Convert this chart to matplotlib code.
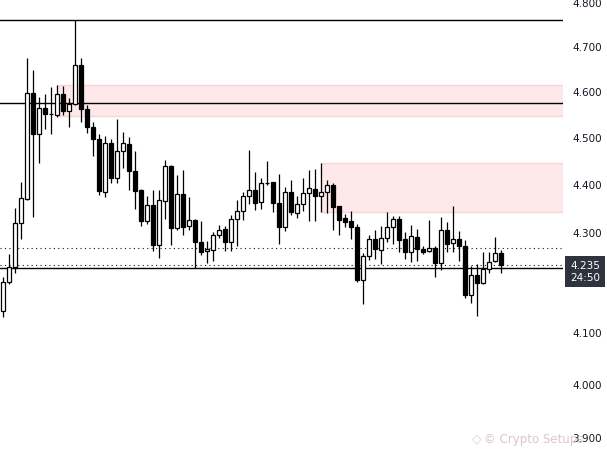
import numpy as np
import matplotlib
matplotlib.use("Agg")
import matplotlib.pyplot as plt
from matplotlib.patches import Rectangle
from matplotlib.ticker import NullLocator, NullFormatter
from matplotlib.transforms import blended_transform_factory

# candle data (oldest first)
OPEN = [4.144, 4.201, 4.231, 4.322, 4.371, 4.598, 4.510, 4.565, 4.552, 4.551,
        4.595, 4.558, 4.573, 4.660, 4.563, 4.525, 4.498, 4.386, 4.490, 4.415,
        4.472, 4.488, 4.430, 4.389, 4.325, 4.358, 4.276, 4.368, 4.440, 4.312,
        4.382, 4.315, 4.327, 4.283, 4.264, 4.267, 4.297, 4.309, 4.283, 4.330,
        4.347, 4.378, 4.391, 4.364, 4.405, 4.406, 4.363, 4.313, 4.385, 4.342,
        4.361, 4.383, 4.393, 4.378, 4.386, 4.400, 4.356, 4.331, 4.325, 4.314,
        4.205, 4.253, 4.288, 4.267, 4.291, 4.314, 4.330, 4.288, 4.261, 4.293,
        4.269, 4.265, 4.271, 4.239, 4.307, 4.281, 4.289, 4.274, 4.175, 4.215,
        4.199, 4.228, 4.243, 4.259]
HIGH = [4.212, 4.257, 4.353, 4.406, 4.676, 4.649, 4.589, 4.596, 4.611, 4.616,
        4.613, 4.587, 4.761, 4.676, 4.571, 4.534, 4.508, 4.504, 4.499, 4.542,
        4.513, 4.503, 4.472, 4.393, 4.378, 4.390, 4.391, 4.453, 4.443, 4.421,
        4.433, 4.375, 4.329, 4.326, 4.284, 4.303, 4.318, 4.316, 4.338, 4.369,
        4.386, 4.474, 4.427, 4.416, 4.451, 4.407, 4.423, 4.396, 4.410, 4.378,
        4.416, 4.433, 4.434, 4.447, 4.412, 4.404, 4.357, 4.341, 4.347, 4.320,
        4.259, 4.296, 4.308, 4.316, 4.344, 4.335, 4.335, 4.302, 4.318, 4.310,
        4.274, 4.327, 4.274, 4.334, 4.324, 4.356, 4.304, 4.286, 4.234, 4.237,
        4.262, 4.262, 4.293, 4.267]
LOW = [4.132, 4.198, 4.220, 4.288, 4.369, 4.333, 4.446, 4.519, 4.510, 4.546,
       4.551, 4.525, 4.572, 4.534, 4.512, 4.461, 4.380, 4.376, 4.404, 4.404,
       4.437, 4.390, 4.350, 4.315, 4.320, 4.265, 4.249, 4.329, 4.277, 4.307,
       4.296, 4.307, 4.229, 4.256, 4.239, 4.244, 4.290, 4.265, 4.264, 4.275,
       4.327, 4.361, 4.348, 4.350, 4.400, 4.345, 4.279, 4.305, 4.337, 4.331,
       4.347, 4.325, 4.325, 4.344, 4.343, 4.307, 4.297, 4.314, 4.289, 4.202,
       4.157, 4.246, 4.247, 4.237, 4.282, 4.279, 4.263, 4.247, 4.242, 4.244,
       4.258, 4.261, 4.212, 4.226, 4.262, 4.262, 4.244, 4.169, 4.160, 4.133,
       4.198, 4.220, 4.241, 4.219]
CLOSE = [4.202, 4.231, 4.322, 4.374, 4.598, 4.508, 4.565, 4.552, 4.553, 4.595,
         4.558, 4.573, 4.659, 4.563, 4.524, 4.498, 4.388, 4.490, 4.415, 4.472,
         4.490, 4.429, 4.388, 4.325, 4.358, 4.276, 4.369, 4.440, 4.312, 4.382,
         4.313, 4.327, 4.282, 4.263, 4.268, 4.297, 4.308, 4.283, 4.330, 4.347,
         4.377, 4.391, 4.363, 4.405, 4.404, 4.363, 4.313, 4.385, 4.344, 4.361,
         4.383, 4.395, 4.378, 4.385, 4.400, 4.354, 4.327, 4.323, 4.313, 4.205,
         4.253, 4.288, 4.269, 4.291, 4.314, 4.330, 4.287, 4.261, 4.295, 4.269,
         4.262, 4.271, 4.239, 4.306, 4.279, 4.289, 4.274, 4.175, 4.215, 4.199,
         4.228, 4.242, 4.259, 4.235]

# drawn levels and zones
SOLID_LEVELS = [4.7605, 4.5756, 4.229]
DOTTED_LEVELS = [4.2705, 4.235]
ZONES = [(9, 4.5469, 4.6158), (53, 4.3437, 4.4464)]  # (start candle, bottom, top)
PRICE_TICKS = [3.9, 4.0, 4.1, 4.3, 4.4, 4.5, 4.6, 4.7, 4.8]
LAST_PRICE = "4.235"
COUNTDOWN = "24:50"

TEXT_COLOR = "#131722"
ZONE_FACE = "#fde8ea"
ZONE_EDGE = "#f8d4d8"
LABEL_BG = "#2e333d"


def plot_chart():
    fig = plt.figure(figsize=(6.07, 4.55), dpi=100)
    ax = fig.add_axes([0, 0, 563 / 607, 1])
    ax.set_yscale("log")
    ax.set_ylim(3.8683, 4.8069)
    ax.set_xlim(-0.55, 93.28)
    for s in ax.spines.values():
        s.set_visible(False)

    x = np.arange(len(OPEN))
    o, h, l, c = map(np.array, (OPEN, HIGH, LOW, CLOSE))
    body_w = 0.7
    lw = 0.9

    # zones behind everything
    right = ax.get_xlim()[1]
    for start, lo, hi in ZONES:
        ax.add_patch(Rectangle((start - 0.1, lo), right - start + 0.1, hi - lo,
                               facecolor=ZONE_FACE, edgecolor=ZONE_EDGE,
                               linewidth=1.0, zorder=1))

    for lvl in SOLID_LEVELS:
        ax.axhline(lvl, color="black", linewidth=1.0, zorder=2)
    for lvl in DOTTED_LEVELS:
        ax.axhline(lvl, color=TEXT_COLOR, linewidth=0.8,
                   linestyle=(0, (1, 3)), zorder=2)

    ax.vlines(x, l, h, color="black", linewidth=lw, zorder=3)
    for xi, oi, ci in zip(x, o, c):
        up = ci >= oi
        bottom = min(oi, ci)
        height = max(abs(ci - oi), 1e-4)
        ax.add_patch(Rectangle((xi - body_w / 2, bottom), body_w, height,
                               facecolor="white" if up else "black",
                               edgecolor="black", linewidth=lw, zorder=4))

    # price scale on the right
    ax.yaxis.tick_right()
    ax.yaxis.set_minor_locator(NullLocator())
    ax.yaxis.set_minor_formatter(NullFormatter())
    ax.set_yticks(PRICE_TICKS)
    ax.set_yticklabels([f"{t:.3f}" for t in PRICE_TICKS])
    ax.tick_params(axis="y", length=0, pad=6.5, labelsize=7.5,
                   labelcolor=TEXT_COLOR)
    ax.set_xticks([])

    # last price label
    trans = blended_transform_factory(ax.transAxes, ax.transData)
    ax.annotate(f"{LAST_PRICE}\n{COUNTDOWN}", xy=(1, CLOSE[-1]), xycoords=trans,
                xytext=(22, -6.5), textcoords="offset pixels",
                ha="center", va="center", fontsize=7.5, color="white",
                linespacing=1.25, annotation_clip=False,
                bbox=dict(boxstyle="square,pad=0.45", fc=LABEL_BG, ec="none"),
                zorder=10)

    # watermark
    fig.text(0.786, 0.035, "\u25c7", fontsize=9, color="#e2cfd3",
             ha="center", va="center")
    fig.text(0.797, 0.035, "\u00a9 Crypto Setups", fontsize=8.5, color="#d9c6ca",
             ha="left", va="center", zorder=0)
    return fig


def main():
    fig = plot_chart()
    fig.savefig("out.png", dpi=100)


if __name__ == "__main__":
    main()
